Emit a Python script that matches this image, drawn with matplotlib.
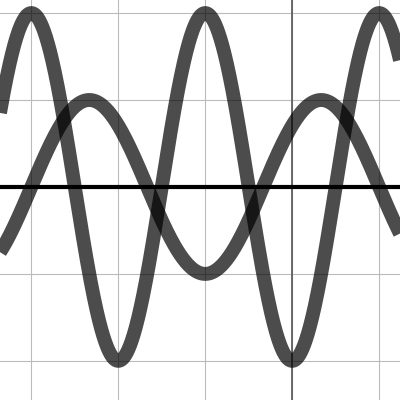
import numpy as np
import matplotlib
matplotlib.use("Agg")
import matplotlib.pyplot as plt

x_min, x_max = -3.36, 1.24
y_min, y_max = -2.45, 2.15
amp1, freq1 = -2.0, np.pi
amp2, freq2, shift2 = -1.0, 0.75*np.pi, 1.0

fig = plt.figure(figsize=(4, 4), dpi=100)
ax = fig.add_axes([0, 0, 1, 1])
ax.set_xlim(x_min, x_max)
ax.set_ylim(y_min, y_max)
for g in range(-4, 3):
    ax.axvline(g, color='#bbbbbb', lw=0.8, zorder=0)
    ax.axhline(g, color='#bbbbbb', lw=0.8, zorder=0)
ax.axvline(0, color='#555555', lw=1.2, zorder=0)
ax.axhline(0, color='black', lw=3, zorder=3)
x = np.linspace(x_min, x_max, 1000)
ax.plot(x, amp1*np.cos(freq1*x), color='black', alpha=0.7, lw=10, zorder=2, solid_capstyle='butt')
ax.plot(x, amp2*np.cos(freq2*(x+shift2)), color='black', alpha=0.7, lw=10, zorder=2, solid_capstyle='butt')
ax.axis('off')
fig.savefig('out.png')
